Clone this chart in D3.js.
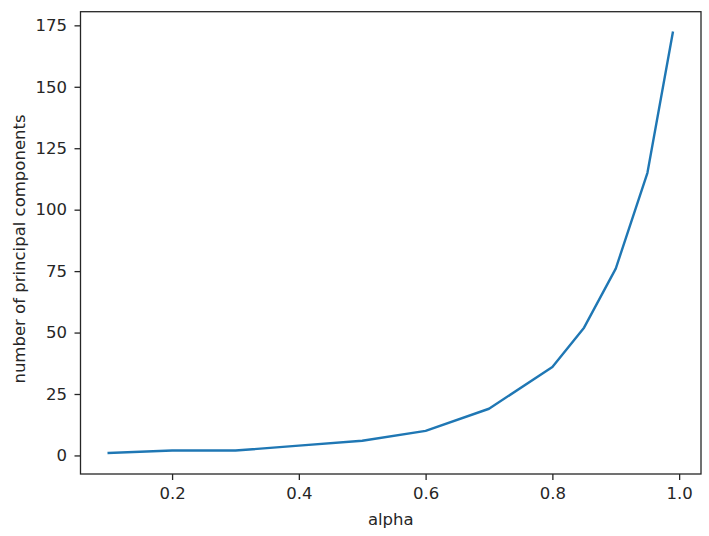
<!DOCTYPE html>
<html>
<head>
<meta charset="utf-8">
<script src="https://cdn.jsdelivr.net/npm/d3@7"></script>
<style>
  body { margin: 0; background: #fff; }
  svg { display: block; }
</style>
</head>
<body>
<svg id="chart" width="709" height="536"></svg>
<script>
// alpha values and number of components
var alphas = [0.1, 0.2, 0.3, 0.4, 0.5, 0.6, 0.7, 0.8, 0.85, 0.9, 0.95, 0.99];
var components = [1, 2, 2, 4, 6, 10, 19, 36, 52, 76, 115, 172];
var xTicks = [0.2, 0.4, 0.6, 0.8, 1.0];
var yTicks = [0, 25, 50, 75, 100, 125, 150, 175];

var fontSize = 16.5,
    ink = "#262626";

var svg = d3.select("#chart"),
    margin = {top: 11.7, right: 8, bottom: 62, left: 80.5},
    width = +svg.attr("width"),
    height = +svg.attr("height");

var data = alphas.map(function(a, i) { return {a: a, n: components[i]}; });

// matplotlib-style 5% padding on both axes
var xExt = d3.extent(alphas), yExt = d3.extent(components);
var xPad = (xExt[1] - xExt[0]) * 0.05, yPad = (yExt[1] - yExt[0]) * 0.05;

var x = d3.scaleLinear()
    .domain([xExt[0] - xPad, xExt[1] + xPad])
    .range([margin.left, width - margin.right]);

var y = d3.scaleLinear()
    .domain([yExt[0] - yPad, yExt[1] + yPad])
    .range([height - margin.bottom, margin.top]);

function styleAxis(g) {
    g.select(".domain").remove();
    g.attr("font-family", "DejaVu Sans, sans-serif").attr("font-size", fontSize);
    g.selectAll(".tick line").attr("stroke", ink).attr("stroke-width", 1.3);
    g.selectAll(".tick text").attr("fill", ink);
}

svg.append("g")
    .attr("transform", "translate(0," + (height - margin.bottom) + ")")
    .call(d3.axisBottom(x).tickValues(xTicks).tickFormat(d3.format(".1f")).tickSize(6).tickSizeOuter(0).tickPadding(7.5))
    .call(styleAxis);

svg.append("g")
    .attr("transform", "translate(" + margin.left + ",0)")
    .call(d3.axisLeft(y).tickValues(yTicks).tickSize(6).tickSizeOuter(0).tickPadding(7.5))
    .call(styleAxis);

svg.append("path")
    .datum(data)
    .attr("fill", "none")
    .attr("stroke", "#1f77b4")
    .attr("stroke-width", 2.4)
    .attr("stroke-linejoin", "round")
    .attr("stroke-linecap", "square")
    .attr("d", d3.line()
        .x(function(d) { return x(d.a); })
        .y(function(d) { return y(d.n); }));

// frame
svg.append("rect")
    .attr("x", margin.left)
    .attr("y", margin.top)
    .attr("width", width - margin.right - margin.left)
    .attr("height", height - margin.bottom - margin.top)
    .attr("fill", "none")
    .attr("stroke", ink)
    .attr("stroke-width", 1.3);

svg.append("text")
    .attr("x", (margin.left + width - margin.right) / 2)
    .attr("y", 525)
    .attr("text-anchor", "middle")
    .attr("font-family", "DejaVu Sans, sans-serif")
    .attr("font-size", fontSize)
    .attr("fill", ink)
    .text("alpha");

svg.append("text")
    .attr("transform", "translate(25,249) rotate(-90)")
    .attr("text-anchor", "middle")
    .attr("font-family", "DejaVu Sans, sans-serif")
    .attr("font-size", fontSize)
    .attr("fill", ink)
    .text("number of principal components");
</script>
</body>
</html>
